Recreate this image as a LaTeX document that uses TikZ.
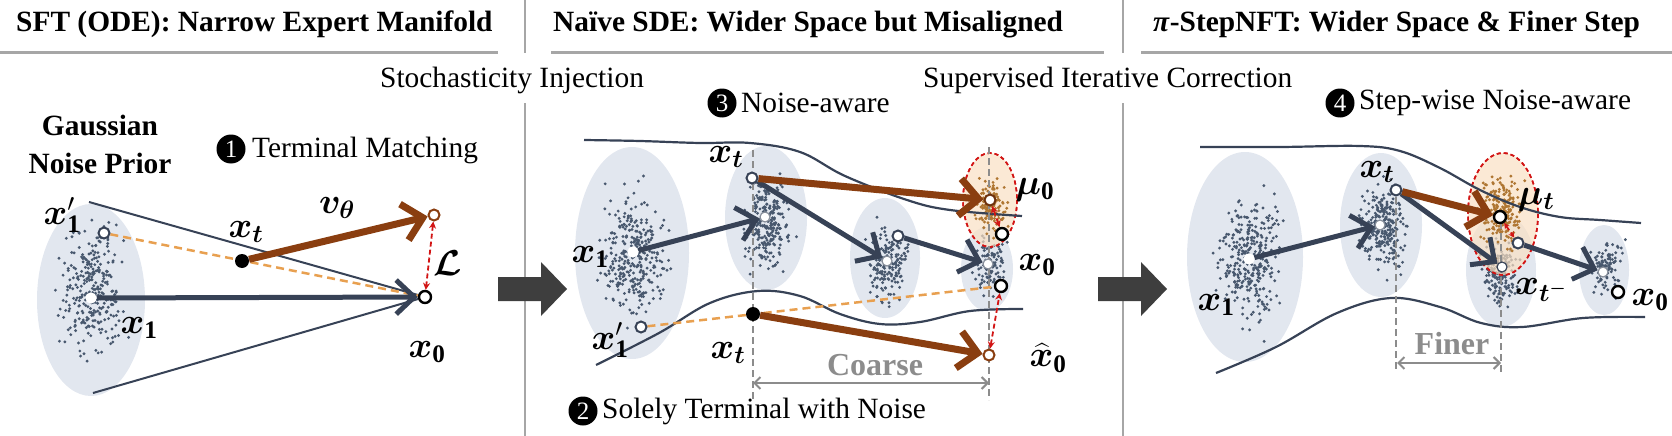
\RequirePackage{fix-cm}
\documentclass[tikz,border=0pt]{standalone}
\usepackage{amsmath,bm}
\usepackage{fontspec}
\setmainfont{Liberation Serif}
\usetikzlibrary{arrows.meta}
\definecolor{slate}{RGB}{55,66,86}
\definecolor{dotc}{RGB}{72,88,110}
\definecolor{cloud}{RGB}{226,231,239}
\definecolor{brownA}{RGB}{138,62,16}
\definecolor{orangeD}{RGB}{232,160,80}
\definecolor{redD}{RGB}{210,20,20}
\definecolor{divg}{RGB}{166,166,166}
\definecolor{dimg}{RGB}{140,140,140}
\definecolor{bigA}{RGB}{62,62,62}
\definecolor{peach}{RGB}{250,224,195}
\definecolor{odot}{RGB}{175,118,50}
\pgfdeclarelayer{bg}
\pgfdeclarelayer{mid}
\pgfsetlayers{bg,mid,main}
\newcommand{\dotcloud}[7]{%
  \pgfmathsetseed{#7}%
  \foreach \i in {1,...,#5}{%
    \pgfmathsetmacro\ddx{#3*(rand+rand+rand)}%
    \pgfmathsetmacro\ddy{#4*(rand+rand+rand)}%
    \fill[#6] ({#1+\ddx},{#2+\ddy}) circle (1.6);
  }}
\begin{document}
\begin{tikzpicture}[x=1pt,y=-1pt,
  txt/.style={inner sep=0pt, font=\fontsize{29.4}{38}\selectfont},
  ttl/.style={inner sep=0pt, font=\fontsize{29.4}{34}\selectfont\bfseries, anchor=base west},
  lab/.style={inner sep=0pt, font=\fontsize{36}{40}\selectfont},
  numc/.style={circle, fill=black, text=white, inner sep=0pt, minimum size=29pt, font=\fontsize{25}{25}\selectfont},
  bound/.style={draw=slate, line width=2.2pt},
  cone/.style={draw=slate, line width=2pt},
  sarr/.style={draw=slate, line width=5pt, -{Straight Barb[length=18pt,width=34pt]}},
  barr/.style={draw=brownA, line width=7pt, -{Straight Barb[length=19pt,width=37pt]}},
  odash/.style={draw=orangeD, line width=2.5pt, dash pattern=on 8pt off 5pt},
  rdash/.style={draw=redD, line width=1.8pt, dash pattern=on 5pt off 3pt, {Stealth[length=7pt,width=7pt]}-{Stealth[length=7pt,width=7pt]}},
  gdash/.style={draw=dimg, line width=2pt, dash pattern=on 7pt off 4pt},
  dim/.style={draw=dimg, line width=2pt, {Straight Barb[length=6pt,width=12pt]}-{Straight Barb[length=6pt,width=12pt]}},
  wpt/.style={circle, fill=white, draw=slate!60, line width=1.2pt, inner sep=0pt, minimum size=10pt},
  opt/.style={circle, fill=white, draw=slate, line width=2pt, inner sep=0pt, minimum size=11pt},
  bpt/.style={circle, fill=white, draw=black, line width=2.4pt, inner sep=0pt, minimum size=12pt},
  brpt/.style={circle, fill=white, draw=brownA, line width=2pt, inner sep=0pt, minimum size=11pt},
  kdot/.style={circle, fill=black, inner sep=0pt, minimum size=14pt},
  muell/.style={fill=peach, fill opacity=0.7, draw=redD, draw opacity=1, line width=1.6pt, dash pattern=on 4pt off 3pt},
  dimtxt/.style={inner sep=0pt, text=dimg, font=\fontsize{32}{36}\selectfont\bfseries}
]
\useasboundingbox (0,0) rectangle (1672,436);

% ---------- titles, rules, dividers ----------
\node[ttl] (t1) at (16,32) {SFT (ODE): Narrow Expert Manifold};
\node[ttl] (t2) at (553,32) {Naïve SDE: Wider Space but Misaligned};
\node[ttl] (t3) at (1153,32) {\textit{π}-StepNFT: Wider Space \& Finer Step};
\draw[divg, line width=3pt] (0,53) -- (498,53);
\draw[divg, line width=3pt] (551,53) -- (1104,53);
\draw[divg, line width=3pt] (1141,53) -- (1672,53);
\draw[divg, line width=2.5pt] (525,0) -- (525,53) (525,103) -- (525,436);
\draw[divg, line width=2.5pt] (1123,0) -- (1123,53) (1123,103) -- (1123,436);
\node[txt, anchor=west] (si) at (380,80) {Stochasticity Injection};
\node[txt, anchor=west] (sc) at (923,80) {Supervised Iterative Correction};

% big arrows
\fill[bigA] (498,277) -- (541,277) -- (541,262) -- (567,289) -- (541,316) -- (541,301) -- (498,301) -- cycle;
\fill[bigA] (1098,277) -- (1141,277) -- (1141,262) -- (1167,289) -- (1141,316) -- (1141,301) -- (1098,301) -- cycle;

% ---------- panel 1 ----------
\begin{pgfonlayer}{bg}
\fill[cloud] (91,300) ellipse [x radius=54, y radius=96];
\dotcloud{91}{293}{14}{29}{300}{dotc}{11}
\end{pgfonlayer}
\node[txt, font=\fontsize{29.4}{38}\selectfont\bfseries, align=center] (gnp) at (100,144) {Gaussian\\Noise Prior};
\node[numc] (n1) at (231,149) {1};
\node[txt, anchor=west] (tm) at (252,150) {Terminal Matching};
\coordinate (c1u) at (89,202);
\coordinate (c1l) at (93,393);
\node[wpt, draw=white] (p1x1) at (91,298) {};
\node[opt] (p1x1p) at (104,233) {};
\node[kdot] (p1xt) at (242,261) {};
\node[bpt] (p1x0) at (425,297) {};
\node[brpt] (p1v) at (434,215) {};
\begin{pgfonlayer}{mid}
\draw[cone] (c1u) -- (p1x0);
\draw[cone] (c1l) -- (p1x0);
\draw[odash] (p1x1p) -- (p1x0);
\draw[sarr] (p1x1) -- (p1x0);
\draw[barr] (p1xt) -- (p1v);
\draw[rdash] (p1v) -- (p1x0);
\end{pgfonlayer}
\node[lab] (l1x1p) at (62,215) {$\bm{x}'_{\mathbf 1}$};
\node[lab] (l1x1) at (139,328) {$\bm{x}_{\mathbf 1}$};
\node[lab] (l1xt) at (246,232) {$\bm{x}_{\bm t}$};
\node[lab] (l1v) at (337,208) {$\bm{v}_{\bm\theta}$};
\node[lab] (l1L) at (448,263) {$\bm{\mathcal{L}}$};
\node[lab] (l1x0) at (427,352) {$\bm{x}_{\mathbf 0}$};

% ---------- panel 2 ----------
\begin{pgfonlayer}{bg}
\fill[cloud] (632,253) ellipse [x radius=57, y radius=106];
\fill[cloud] (766,218) ellipse [x radius=41, y radius=72];
\fill[cloud] (885,258) ellipse [x radius=35, y radius=60];
\fill[cloud] (987,269) ellipse [x radius=26, y radius=42];
\dotcloud{633}{255}{14}{29}{330}{dotc}{21}
\dotcloud{768}{222}{10}{20}{260}{dotc}{22}
\dotcloud{888}{262}{9}{17}{170}{dotc}{23}
\dotcloud{990}{262}{7}{13}{110}{dotc}{24}
\fill[muell] (990,200) ellipse [x radius=27, y radius=47];
\draw[muell, fill=none] (990,200) ellipse [x radius=27, y radius=47];
\dotcloud{990}{206}{7}{12}{130}{odot}{25}
\draw[bound] plot[smooth, tension=0.6] coordinates {(584,140) (640,141) (700,143) (750,143) (800,152) (845,176) (907,200) (950,210) (1022,216)};
\draw[bound] plot[smooth, tension=0.6] coordinates {(596,365) (659,333) (710,303) (758,291) (800,296) (840,314) (880,324) (920,322) (970,311) (1023,309)};
\end{pgfonlayer}
\node[numc] (n3) at (722,103) {3};
\node[txt, anchor=west] (na) at (741,103) {Noise-aware};
\node[numc] (n2) at (583,411) {2};
\node[txt, anchor=west] (st) at (602,411) {Solely Terminal with Noise};
\coordinate (v2at) at (753,150);
\coordinate (v2ab) at (753,400);
\coordinate (v2bt) at (989,147);
\coordinate (v2bb) at (989,400);
\coordinate (d2a) at (753,383);
\coordinate (d2b) at (989,383);
\node[wpt, draw=white] (p2x1) at (633,252) {};
\node[wpt] (p2e2) at (765,217) {};
\node[opt] (p2xt) at (752,178) {};
\node[wpt] (p2e3) at (887,261) {};
\node[opt] (p2q) at (898,236) {};
\node[wpt] (p2e4) at (988,264) {};
\node[brpt, draw=brownA!80!black] (p2mu) at (990,200) {};
\node[bpt] (p2b1) at (1002,234) {};
\node[bpt] (p2b2) at (1001,286) {};
\node[brpt] (p2xh) at (989,355) {};
\node[kdot] (p2xtl) at (753,314) {};
\node[opt] (p2x1p) at (641,327) {};
\begin{pgfonlayer}{mid}
\draw[gdash] (v2at) -- (v2ab);
\draw[gdash] (v2bt) -- (v2bb);
\draw[dim] (d2a) -- (d2b);
\draw[odash] (p2x1p) -- (p2b2);
\draw[sarr] (p2x1) -- (p2e2);
\draw[sarr] (p2xt) -- (p2e3);
\draw[sarr] (p2q) -- (p2e4);
\draw[barr] (p2xt) -- (p2mu);
\draw[barr] (p2xtl) -- (p2xh);
\draw[rdash] (p2b1) -- (p2mu);
\draw[rdash] (p2xh) -- (p2b2);
\end{pgfonlayer}
\node[dimtxt] (coarse) at (875,365) {Coarse};
\node[lab] (l2x1) at (590,257) {$\bm{x}_{\mathbf 1}$};
\node[lab] (l2xt) at (726,157) {$\bm{x}_{\bm t}$};
\node[lab] (l2x1p) at (610,340) {$\bm{x}'_{\mathbf 1}$};
\node[lab] (l2xtl) at (728,353) {$\bm{x}_{\bm t}$};
\node[lab] (l2mu) at (1035,190) {$\bm{\mu}_{\mathbf 0}$};
\node[lab] (l2x0) at (1037,265) {$\bm{x}_{\mathbf 0}$};
\node[lab] (l2xh) at (1048,358) {$\widehat{\bm{x}}_{\mathbf 0}$};

% ---------- panel 3 ----------
\begin{pgfonlayer}{bg}
\fill[cloud] (1245,257) ellipse [x radius=58, y radius=105];
\fill[cloud] (1381,225) ellipse [x radius=41, y radius=72];
\fill[cloud] (1501,270) ellipse [x radius=35, y radius=57];
\fill[cloud] (1604,270) ellipse [x radius=25, y radius=45];
\dotcloud{1249}{258}{14}{29}{330}{dotc}{31}
\dotcloud{1383}{228}{10}{20}{260}{dotc}{32}
\dotcloud{1500}{275}{8}{15}{160}{dotc}{33}
\dotcloud{1605}{265}{7}{12}{110}{dotc}{34}
\fill[muell] (1503,214) ellipse [x radius=35, y radius=61];
\draw[muell, fill=none] (1503,214) ellipse [x radius=35, y radius=61];
\dotcloud{1502}{212}{9}{18}{200}{odot}{35}
\draw[bound] plot[smooth, tension=0.6] coordinates {(1200,147) (1280,147) (1360,146) (1400,151) (1440,168) (1480,190) (1520,207) (1560,217) (1600,220) (1641,223)};
\draw[bound] plot[smooth, tension=0.6] coordinates {(1216,373) (1276,347) (1337,313) (1391,298) (1440,307) (1481,323) (1522,327) (1583,318) (1645,317)};
\end{pgfonlayer}
\node[numc] (n4) at (1340,103) {4};
\node[txt, anchor=west] (swna) at (1359,103) {Step-wise Noise-aware};
\coordinate (v3at) at (1396,197);
\coordinate (v3ab) at (1396,372);
\coordinate (v3bt) at (1501,222);
\coordinate (v3bb) at (1501,372);
\coordinate (d3a) at (1397,363);
\coordinate (d3b) at (1501,363);
\node[wpt, draw=white] (p3x1) at (1249,259) {};
\node[wpt] (p3e2) at (1380,225) {};
\node[opt] (p3xt) at (1396,190) {};
\node[bpt] (p3mu) at (1500,217) {};
\node[wpt, draw=slate] (p3xtm) at (1502,267) {};
\node[opt] (p3q) at (1518,243) {};
\node[wpt] (p3e4) at (1603,272) {};
\node[bpt] (p3x0) at (1618,292) {};
\begin{pgfonlayer}{mid}
\draw[gdash] (v3at) -- (v3ab);
\draw[gdash] (v3bt) -- (v3bb);
\draw[dim] (d3a) -- (d3b);
\draw[sarr] (p3x1) -- (p3e2);
\draw[sarr] (p3xt) -- (p3xtm);
\draw[sarr] (p3q) -- (p3e4);
\draw[barr] (p3xt) -- (p3mu);
\draw[rdash, {Stealth[length=6pt,width=6pt]}-{Stealth[length=6pt,width=6pt]}] (p3mu) -- (p3q);
\end{pgfonlayer}
\node[dimtxt] (finer) at (1452,344) {Finer};
\node[lab] (l3x1) at (1216,305) {$\bm{x}_{\mathbf 1}$};
\node[lab] (l3xt) at (1377,172) {$\bm{x}_{\bm t}$};
\node[lab] (l3mu) at (1536,200) {$\bm{\mu}_{\bm t}$};
\node[lab] (l3xtm) at (1541,290) {$\bm{x}_{\bm{t}^{\bm -}}$};
\node[lab] (l3x0) at (1650,300) {$\bm{x}_{\mathbf 0}$};
\end{tikzpicture}
\end{document}
